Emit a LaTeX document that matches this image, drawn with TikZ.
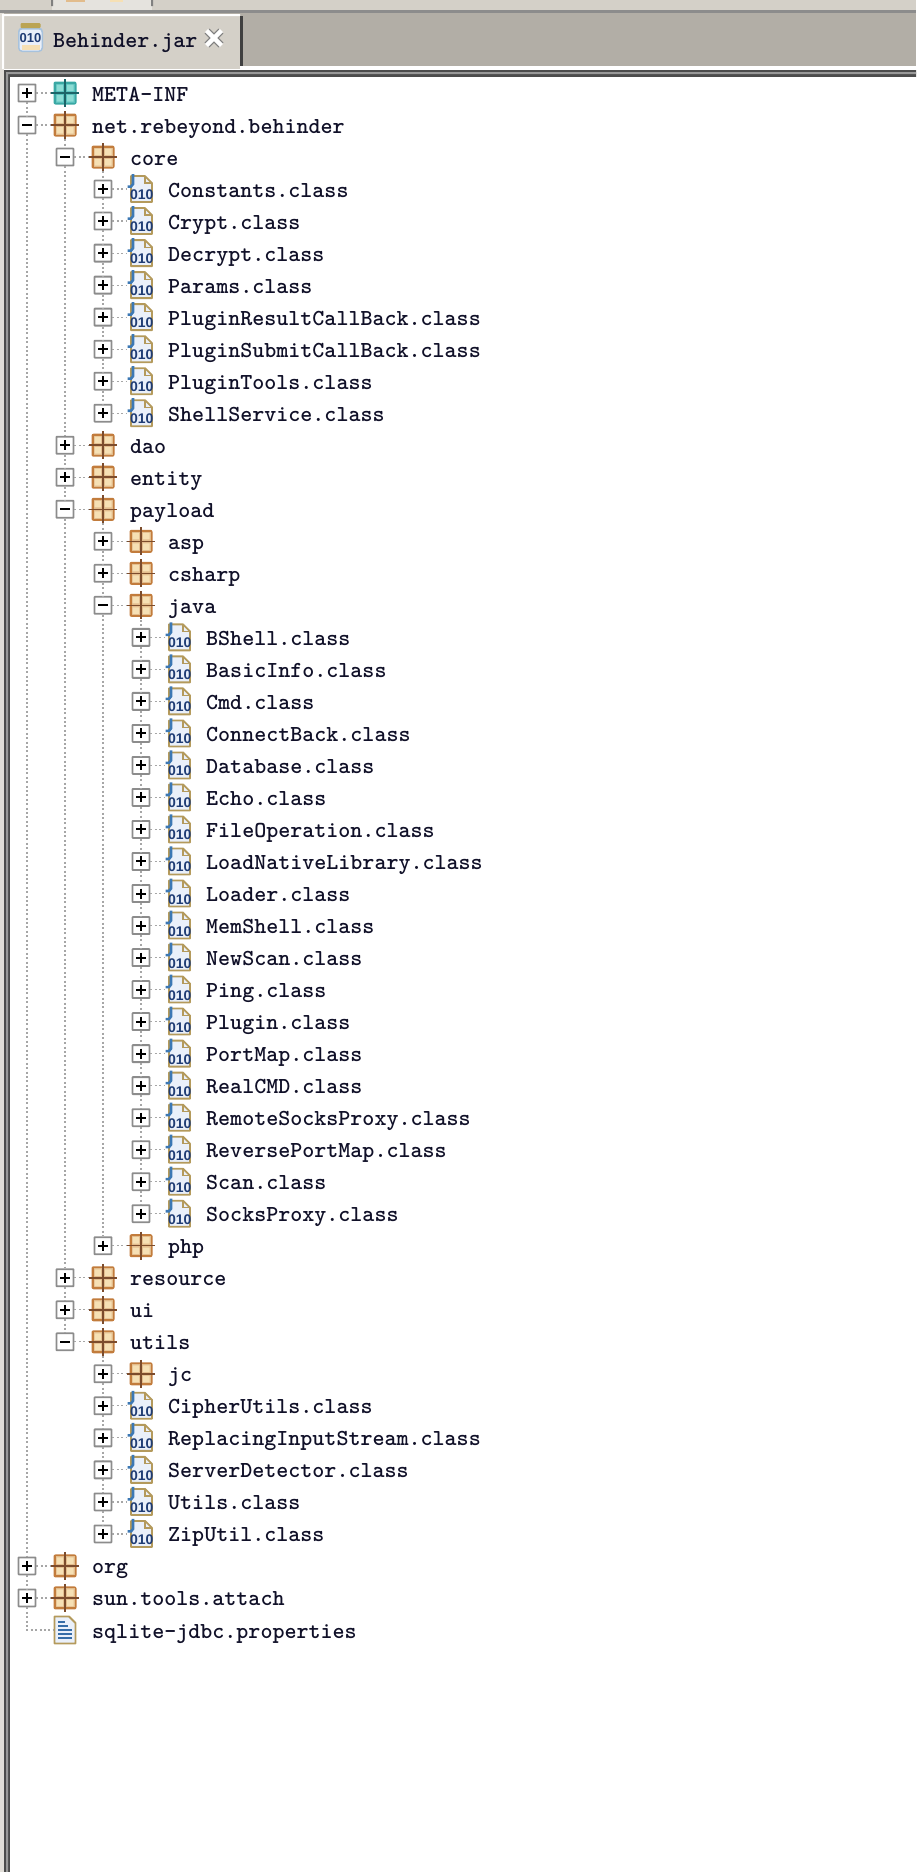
\documentclass[tikz,border=0pt]{standalone}
\usepackage{fontspec}
\newfontfamily\iconfont{Liberation Sans}
\definecolor{chrome}{HTML}{D4D0C8}
\definecolor{strip}{HTML}{B2AEA6}
\definecolor{pkgedge}{HTML}{C27C3C}
\definecolor{pkgfill}{HTML}{E2BC8C}
\definecolor{pkglight}{HTML}{F6E0B4}
\definecolor{pkgcross}{HTML}{7C4C2C}
\definecolor{metaedge}{HTML}{3AA8A4}
\definecolor{metafill}{HTML}{58C0BC}
\definecolor{metalight}{HTML}{8CDCD4}
\definecolor{metacross}{HTML}{1C6468}
\definecolor{pageedge}{HTML}{B49A5C}
\definecolor{pagefill}{HTML}{EAF0FA}
\definecolor{navy}{HTML}{1F3C74}
\definecolor{hook}{HTML}{3C78B4}
\definecolor{inktext}{HTML}{101028}

\begin{document}
\begin{tikzpicture}[x=1pt, y=-1pt,
    rowtext/.style={anchor=base west, inner sep=0pt, text=inktext,
        font=\fontsize{22.9pt}{24pt}\ttfamily\bfseries},
    treeline/.style={draw=black!35, line width=1.2pt, dash pattern=on 2pt off 2.4pt},
    togbox/.style={draw=black!45, fill=white, line width=1.8pt, rounded corners=0.5pt,
        minimum size=17pt, inner sep=0pt},
    tog-p/.style={togbox, path picture={
        \draw[black, line width=2pt, shift={(path picture bounding box.center)}]
            (-5,0) -- (5,0) (0,-5) -- (0,5);}},
    tog-m/.style={togbox, path picture={
        \draw[black, line width=2pt, shift={(path picture bounding box.center)}]
            (-5,0) -- (5,0);}},
    crate/.style n args={4}{minimum size=28pt, inner sep=0pt, path picture={
        \begin{scope}[shift={(path picture bounding box.center)}]
            \fill[#1, rounded corners=2pt] (-11.5,-11.5) rectangle (11.5,11.5);
            \fill[#2] (-9.5,-9.5) rectangle (9.5,9.5);
            \fill[#3] (-8.5,-8.5) rectangle (-2,-2) (2,-8.5) rectangle (8.5,-2)
                (-8.5,2) rectangle (-2,8.5) (2,2) rectangle (8.5,8.5);
            \draw[#4, line width=1.5pt] (-14,0) -- (14,0) (0,-14) -- (0,14);
        \end{scope}}},
    pkgicon/.style={crate={pkgedge}{pkgfill}{pkglight}{pkgcross}},
    metaicon/.style={crate={metaedge}{metafill}{metalight}{metacross}},
    digits/.style={inner sep=0pt, text=navy, font=\fontsize{14pt}{14pt}\iconfont\bfseries},
    classicon/.style={xshift=1pt, minimum width=29pt, minimum height=30pt, inner sep=0pt,
        path picture={
        \begin{scope}[shift={(path picture bounding box.center)}]
            \draw[pageedge, fill=pagefill, line width=1.8pt, line join=round]
                (-11,-13) -- (3,-13) -- (10,-6) -- (10,13) -- (-11,13) -- cycle;
            \draw[pageedge, line width=1.2pt] (3,-13) -- (3,-6) -- (10,-6);
            \draw[hook, line width=2.6pt] (-9,-15) -- (-9,-5) -- (-11,-2.5) -- (-14.5,-2.5);
            \node[digits, anchor=base east] (bits) at (14.5,10.5) {010};
        \end{scope}}},
    fileicon/.style={minimum width=24pt, minimum height=30pt, inner sep=0pt, path picture={
        \begin{scope}[shift={(path picture bounding box.center)}]
            \draw[pageedge, fill=pagefill, line width=1.8pt, line join=round]
                (-10.5,-13.5) -- (4,-13.5) -- (10.5,-7) -- (10.5,13.5) -- (-10.5,13.5) -- cycle;
            \foreach \ly/\lx in {-8/0, -4/3, 0/7, 4/7, 8/7}
                \draw[hook!80!navy, line width=1.6pt] (-7,\ly) -- (\lx,\ly);
        \end{scope}}},
    jaricon/.style={minimum width=28pt, minimum height=32pt, inner sep=0pt, path picture={
        \begin{scope}[shift={(path picture bounding box.center)}]
            \fill[hook!45!white, rounded corners=4pt] (-12.5,-10) rectangle (12.5,14.5);
            \fill[pagefill, rounded corners=3pt] (-11,-8) rectangle (11,13);
            \fill[pkglight] (-9,7) rectangle (9,12.5);
            \fill[pageedge!90!yellow, rounded corners=1pt] (-10,-14.5) rectangle (10,-9.5);
            \node[digits, font=\fontsize{13pt}{13pt}\iconfont\bfseries] (jarbits) at (0,0.5) {010};
        \end{scope}}},
    closemark/.style={minimum size=24pt, inner sep=0pt, path picture={
        \begin{scope}[shift={(path picture bounding box.center)}]
            \draw[black!50, line width=7pt] (-7,-7) -- (7,7) (-7,7) -- (7,-7);
            \draw[white, line width=4.4pt] (-7.4,-7.4) -- (7.4,7.4) (-7.4,7.4) -- (7.4,-7.4);
        \end{scope}}}]
    \useasboundingbox (0,0) rectangle (916,1872);

    % window chrome
    \fill[white] (0,0) rectangle (916,1872);
    \fill[chrome] (0,0) rectangle (916,12);
    \fill[chrome!60!white] (52,0) rectangle (152,10);
    \fill[pkgfill] (66,0) rectangle (85,2);
    \fill[pkglight] (110,0) rectangle (123,2);
    \fill[black!50] (51,0) rectangle (53,6) (151,0) rectangle (153,6);
    \fill[black!45] (0,10) rectangle (916,13);
    \fill[strip] (0,13) rectangle (916,66);
    \fill[white] (240,66) rectangle (916,69);
    \fill[chrome!70!white] (0,13) rectangle (4,1872);
    \fill[chrome] (2,15) rectangle (240,69);
    \fill[white] (2,14) rectangle (240,16) (2,14) rectangle (4,69);
    \fill[black!75] (240,16) rectangle (243,66);
    \fill[black!70] (4,70) rectangle (916,77) (4,70) rectangle (10,1872);
    \fill[black!40] (6,72) rectangle (916,74) (6,72) rectangle (8,1872);
    \fill[white] (10,77) rectangle (916,1872);

    \node[jaricon] (jar) at (30.5,37.5) {};
    \node[rowtext] (tabname) at (53,47) {Behinder.jar};
    \node[closemark] (tabclose) at (214,38) {};

    % rows of the tree
    \foreach \lv/\tg/\ic/\txt [count=\r from 0] in {
        0/p/metaicon/META-INF, 0/m/pkgicon/net.rebeyond.behinder,
        1/m/pkgicon/core,
        2/p/classicon/Constants.class, 2/p/classicon/Crypt.class, 2/p/classicon/Decrypt.class,
        2/p/classicon/Params.class, 2/p/classicon/PluginResultCallBack.class,
        2/p/classicon/PluginSubmitCallBack.class, 2/p/classicon/PluginTools.class,
        2/p/classicon/ShellService.class,
        1/p/pkgicon/dao, 1/p/pkgicon/entity, 1/m/pkgicon/payload,
        2/p/pkgicon/asp, 2/p/pkgicon/csharp, 2/m/pkgicon/java,
        3/p/classicon/BShell.class, 3/p/classicon/BasicInfo.class, 3/p/classicon/Cmd.class,
        3/p/classicon/ConnectBack.class, 3/p/classicon/Database.class, 3/p/classicon/Echo.class,
        3/p/classicon/FileOperation.class, 3/p/classicon/LoadNativeLibrary.class,
        3/p/classicon/Loader.class, 3/p/classicon/MemShell.class, 3/p/classicon/NewScan.class,
        3/p/classicon/Ping.class, 3/p/classicon/Plugin.class, 3/p/classicon/PortMap.class,
        3/p/classicon/RealCMD.class, 3/p/classicon/RemoteSocksProxy.class,
        3/p/classicon/ReversePortMap.class, 3/p/classicon/Scan.class,
        3/p/classicon/SocksProxy.class,
        2/p/pkgicon/php,
        1/p/pkgicon/resource, 1/p/pkgicon/ui, 1/m/pkgicon/utils,
        2/p/pkgicon/jc,
        2/p/classicon/CipherUtils.class, 2/p/classicon/ReplacingInputStream.class,
        2/p/classicon/ServerDetector.class, 2/p/classicon/Utils.class, 2/p/classicon/ZipUtil.class,
        0/p/pkgicon/org, 0/p/pkgicon/sun.tools.attach} {
        \node[tog-\tg] (b\r) at ({27+38*\lv},{93+32.02*\r}) {};
        \node[\ic] (i\r) at ({65+38*\lv},{93+32.02*\r}) {};
        \node[rowtext] (t\r) at ({92+38*\lv},{101+32.02*\r}) {\txt};
        \draw[treeline] (b\r) -- (i\r);
    }
    \coordinate (c48) at (27,1630);
    \node[fileicon] (i48) at (65,1630) {};
    \node[rowtext] (t48) at (92,1638) {sqlite-jdbc.properties};

    % dotted spines
    \foreach \a/\b in {b0/b1, b1/b46, b46/b47, i1/b2, b2/b11, b11/b12, b12/b13, b13/b37, b37/b38,
        b38/b39, i2/b3, i13/b14, b14/b15, b15/b16, b16/b36, i16/b17, i39/b40}
        \draw[treeline] (\a) -- (\b);
    \foreach \a [evaluate=\a as \b using int(\a+1)] in {3,...,9,17,18,...,34,40,41,...,44}
        \draw[treeline] (b\a) -- (b\b);
    \draw[treeline] (b47) -- (c48) -- (i48);
\end{tikzpicture}
\end{document}
